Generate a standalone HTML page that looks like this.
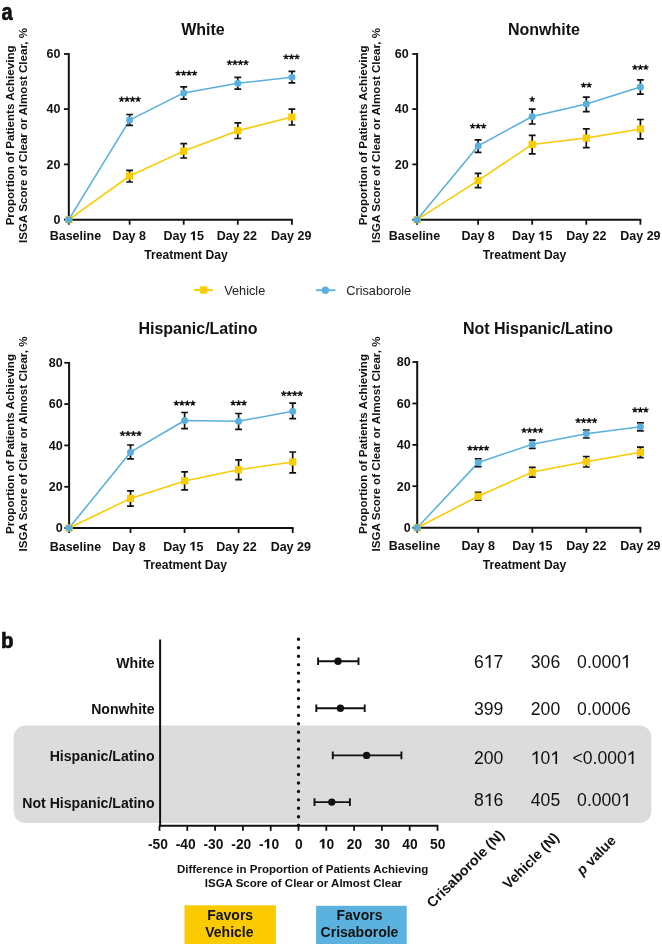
<!DOCTYPE html>
<html><head><meta charset="utf-8"><style>html,body{margin:0;padding:0;background:#fff;width:662px;height:944px;overflow:hidden}</style></head>
<body>
<svg width="662" height="944" viewBox="0 0 662 944" style="display:block;font-family:'Liberation Sans',sans-serif;will-change:transform">
<rect width="662" height="944" fill="#fff"/>
<text transform="translate(1.5,19.7) scale(0.85,0.98)" font-size="23.5" font-weight="bold" fill="#111" stroke="#111" stroke-width="0.7">a</text>
<text transform="translate(1.0,647.7) scale(0.93,0.98)" font-size="22" font-weight="bold" fill="#111" stroke="#111" stroke-width="0.7">b</text>
<text transform="translate(13.60,135.40) rotate(-90)" font-size="11.6" font-weight="bold" text-anchor="middle" fill="#111">Proportion of Patients Achieving</text>
<text transform="translate(27.20,135.40) rotate(-90)" font-size="11.6" font-weight="bold" text-anchor="middle" fill="#111">ISGA Score of Clear or Almost Clear, %</text>
<text x="203.00" y="35.30" font-size="16" font-weight="bold" text-anchor="middle" fill="#111" >White</text>
<line x1="64.00" y1="219.70" x2="68.80" y2="219.70" stroke="#111" stroke-width="1.8"/>
<text x="60.40" y="224.00" font-size="12.5" font-weight="bold" text-anchor="end" fill="#111" >0</text>
<line x1="64.00" y1="164.40" x2="68.80" y2="164.40" stroke="#111" stroke-width="1.8"/>
<text x="60.40" y="168.70" font-size="12.5" font-weight="bold" text-anchor="end" fill="#111" >20</text>
<line x1="64.00" y1="109.10" x2="68.80" y2="109.10" stroke="#111" stroke-width="1.8"/>
<text x="60.40" y="113.40" font-size="12.5" font-weight="bold" text-anchor="end" fill="#111" >40</text>
<line x1="64.00" y1="54.00" x2="68.80" y2="54.00" stroke="#111" stroke-width="1.8"/>
<text x="60.40" y="58.30" font-size="12.5" font-weight="bold" text-anchor="end" fill="#111" >60</text>
<line x1="68.80" y1="53.10" x2="68.80" y2="220.60" stroke="#111" stroke-width="2"/>
<line x1="67.90" y1="219.70" x2="292.80" y2="219.70" stroke="#111" stroke-width="2"/>
<line x1="68.80" y1="219.70" x2="68.80" y2="224.70" stroke="#111" stroke-width="1.8"/>
<line x1="129.60" y1="219.70" x2="129.60" y2="224.70" stroke="#111" stroke-width="1.8"/>
<line x1="183.70" y1="219.70" x2="183.70" y2="224.70" stroke="#111" stroke-width="1.8"/>
<line x1="237.80" y1="219.70" x2="237.80" y2="224.70" stroke="#111" stroke-width="1.8"/>
<line x1="291.90" y1="219.70" x2="291.90" y2="224.70" stroke="#111" stroke-width="1.8"/>
<text x="75.40" y="240.20" font-size="12.5" font-weight="bold" text-anchor="middle" fill="#111" >Baseline</text>
<text x="129.30" y="240.20" font-size="12.5" font-weight="bold" text-anchor="middle" fill="#111" >Day 8</text>
<text x="183.70" y="240.20" font-size="12.5" font-weight="bold" text-anchor="middle" fill="#111" >Day &#8199;5</text>
<path transform="translate(189.95,240.20) scale(12.5,-12.5)" d="M0.40,0L0.40,0.716L0.295,0.716L0.06,0.55L0.06,0.43L0.24,0.54L0.24,0Z" fill="#111"/>
<text x="236.80" y="240.20" font-size="12.5" font-weight="bold" text-anchor="middle" fill="#111" >Day 22</text>
<text x="291.20" y="240.20" font-size="12.5" font-weight="bold" text-anchor="middle" fill="#111" >Day 29</text>
<text x="186.00" y="258.80" font-size="12.1" font-weight="bold" text-anchor="middle" fill="#111" >Treatment Day</text>
<polyline points="68.80,219.70 129.60,176.00 183.70,151.10 237.80,130.70 291.90,117.00" fill="none" stroke="#f8cb00" stroke-width="1.55" stroke-linejoin="round"/>
<polyline points="68.80,219.70 129.60,120.10 183.70,92.90 237.80,83.20 291.90,77.30" fill="none" stroke="#5aafdd" stroke-width="1.55" stroke-linejoin="round"/>
<rect x="65.20" y="216.10" width="7.2" height="7.2" fill="#f9cc00"/>
<path d="M129.60,170.30V182.00M126.20,170.30H133.00M126.20,182.00H133.00" stroke="#111" stroke-width="1.7" fill="none"/>
<rect x="126.00" y="172.40" width="7.2" height="7.2" fill="#f9cc00"/>
<path d="M183.70,143.70V158.00M180.30,143.70H187.10M180.30,158.00H187.10" stroke="#111" stroke-width="1.7" fill="none"/>
<rect x="180.10" y="147.50" width="7.2" height="7.2" fill="#f9cc00"/>
<path d="M237.80,122.90V138.50M234.40,122.90H241.20M234.40,138.50H241.20" stroke="#111" stroke-width="1.7" fill="none"/>
<rect x="234.20" y="127.10" width="7.2" height="7.2" fill="#f9cc00"/>
<path d="M291.90,109.10V125.00M288.50,109.10H295.30M288.50,125.00H295.30" stroke="#111" stroke-width="1.7" fill="none"/>
<rect x="288.30" y="113.40" width="7.2" height="7.2" fill="#f9cc00"/>
<circle cx="68.80" cy="219.70" r="3.5" fill="#5aafdd"/>
<path d="M129.60,114.50V125.30M126.20,114.50H133.00M126.20,125.30H133.00" stroke="#111" stroke-width="1.7" fill="none"/>
<circle cx="129.60" cy="120.10" r="3.5" fill="#5aafdd"/>
<path d="M183.70,86.80V99.20M180.30,86.80H187.10M180.30,99.20H187.10" stroke="#111" stroke-width="1.7" fill="none"/>
<circle cx="183.70" cy="92.90" r="3.5" fill="#5aafdd"/>
<path d="M237.80,77.30V89.10M234.40,77.30H241.20M234.40,89.10H241.20" stroke="#111" stroke-width="1.7" fill="none"/>
<circle cx="237.80" cy="83.20" r="3.5" fill="#5aafdd"/>
<path d="M291.90,71.40V82.80M288.50,71.40H295.30M288.50,82.80H295.30" stroke="#111" stroke-width="1.7" fill="none"/>
<circle cx="291.90" cy="77.30" r="3.5" fill="#5aafdd"/>
<path d="M121.55,99.33L121.55,96.58M121.55,99.33L124.17,98.48M121.55,99.33L123.17,101.55M121.55,99.33L119.93,101.55M121.55,99.33L118.93,98.48M127.05,99.33L127.05,96.58M127.05,99.33L129.67,98.48M127.05,99.33L128.67,101.55M127.05,99.33L125.43,101.55M127.05,99.33L124.43,98.48M132.55,99.33L132.55,96.58M132.55,99.33L135.17,98.48M132.55,99.33L134.17,101.55M132.55,99.33L130.93,101.55M132.55,99.33L129.93,98.48M138.05,99.33L138.05,96.58M138.05,99.33L140.67,98.48M138.05,99.33L139.67,101.55M138.05,99.33L136.43,101.55M138.05,99.33L135.43,98.48" stroke="#111" stroke-width="1.35" stroke-linecap="butt" fill="none"/>
<path d="M178.05,73.23L178.05,70.48M178.05,73.23L180.67,72.38M178.05,73.23L179.67,75.45M178.05,73.23L176.43,75.45M178.05,73.23L175.43,72.38M183.55,73.23L183.55,70.48M183.55,73.23L186.17,72.38M183.55,73.23L185.17,75.45M183.55,73.23L181.93,75.45M183.55,73.23L180.93,72.38M189.05,73.23L189.05,70.48M189.05,73.23L191.67,72.38M189.05,73.23L190.67,75.45M189.05,73.23L187.43,75.45M189.05,73.23L186.43,72.38M194.55,73.23L194.55,70.48M194.55,73.23L197.17,72.38M194.55,73.23L196.17,75.45M194.55,73.23L192.93,75.45M194.55,73.23L191.93,72.38" stroke="#111" stroke-width="1.35" stroke-linecap="butt" fill="none"/>
<path d="M229.45,62.72L229.45,59.97M229.45,62.72L232.07,61.88M229.45,62.72L231.07,64.95M229.45,62.72L227.83,64.95M229.45,62.72L226.83,61.88M234.95,62.72L234.95,59.97M234.95,62.72L237.57,61.88M234.95,62.72L236.57,64.95M234.95,62.72L233.33,64.95M234.95,62.72L232.33,61.88M240.45,62.72L240.45,59.97M240.45,62.72L243.07,61.88M240.45,62.72L242.07,64.95M240.45,62.72L238.83,64.95M240.45,62.72L237.83,61.88M245.95,62.72L245.95,59.97M245.95,62.72L248.57,61.88M245.95,62.72L247.57,64.95M245.95,62.72L244.33,64.95M245.95,62.72L243.33,61.88" stroke="#111" stroke-width="1.35" stroke-linecap="butt" fill="none"/>
<path d="M286.00,56.92L286.00,54.17M286.00,56.92L288.62,56.08M286.00,56.92L287.62,59.15M286.00,56.92L284.38,59.15M286.00,56.92L283.38,56.08M291.50,56.92L291.50,54.17M291.50,56.92L294.12,56.08M291.50,56.92L293.12,59.15M291.50,56.92L289.88,59.15M291.50,56.92L288.88,56.08M297.00,56.92L297.00,54.17M297.00,56.92L299.62,56.08M297.00,56.92L298.62,59.15M297.00,56.92L295.38,59.15M297.00,56.92L294.38,56.08" stroke="#111" stroke-width="1.35" stroke-linecap="butt" fill="none"/>
<text transform="translate(366.70,135.40) rotate(-90)" font-size="11.6" font-weight="bold" text-anchor="middle" fill="#111">Proportion of Patients Achieving</text>
<text transform="translate(379.90,135.40) rotate(-90)" font-size="11.6" font-weight="bold" text-anchor="middle" fill="#111">ISGA Score of Clear or Almost Clear, %</text>
<text x="544.00" y="35.30" font-size="16" font-weight="bold" text-anchor="middle" fill="#111" >Nonwhite</text>
<line x1="412.30" y1="219.70" x2="417.10" y2="219.70" stroke="#111" stroke-width="1.8"/>
<line x1="412.30" y1="164.40" x2="417.10" y2="164.40" stroke="#111" stroke-width="1.8"/>
<text x="408.60" y="168.70" font-size="12.5" font-weight="bold" text-anchor="end" fill="#111" >20</text>
<line x1="412.30" y1="109.10" x2="417.10" y2="109.10" stroke="#111" stroke-width="1.8"/>
<text x="408.60" y="113.40" font-size="12.5" font-weight="bold" text-anchor="end" fill="#111" >40</text>
<line x1="412.30" y1="54.00" x2="417.10" y2="54.00" stroke="#111" stroke-width="1.8"/>
<text x="408.60" y="58.30" font-size="12.5" font-weight="bold" text-anchor="end" fill="#111" >60</text>
<line x1="417.10" y1="53.10" x2="417.10" y2="220.60" stroke="#111" stroke-width="2"/>
<line x1="416.20" y1="219.70" x2="641.30" y2="219.70" stroke="#111" stroke-width="2"/>
<line x1="417.10" y1="219.70" x2="417.10" y2="224.70" stroke="#111" stroke-width="1.8"/>
<line x1="478.10" y1="219.70" x2="478.10" y2="224.70" stroke="#111" stroke-width="1.8"/>
<line x1="532.20" y1="219.70" x2="532.20" y2="224.70" stroke="#111" stroke-width="1.8"/>
<line x1="586.30" y1="219.70" x2="586.30" y2="224.70" stroke="#111" stroke-width="1.8"/>
<line x1="640.40" y1="219.70" x2="640.40" y2="224.70" stroke="#111" stroke-width="1.8"/>
<text x="414.50" y="240.20" font-size="12.5" font-weight="bold" text-anchor="middle" fill="#111" >Baseline</text>
<text x="478.10" y="240.20" font-size="12.5" font-weight="bold" text-anchor="middle" fill="#111" >Day 8</text>
<text x="532.20" y="240.20" font-size="12.5" font-weight="bold" text-anchor="middle" fill="#111" >Day &#8199;5</text>
<path transform="translate(538.45,240.20) scale(12.5,-12.5)" d="M0.40,0L0.40,0.716L0.295,0.716L0.06,0.55L0.06,0.43L0.24,0.54L0.24,0Z" fill="#111"/>
<text x="586.30" y="240.20" font-size="12.5" font-weight="bold" text-anchor="middle" fill="#111" >Day 22</text>
<text x="640.40" y="240.20" font-size="12.5" font-weight="bold" text-anchor="middle" fill="#111" >Day 29</text>
<text x="524.50" y="258.80" font-size="12.1" font-weight="bold" text-anchor="middle" fill="#111" >Treatment Day</text>
<polyline points="417.10,219.70 478.10,180.70 532.20,144.40 586.30,138.10 640.40,128.90" fill="none" stroke="#f8cb00" stroke-width="1.55" stroke-linejoin="round"/>
<polyline points="417.10,219.70 478.10,145.90 532.20,116.50 586.30,104.10 640.40,87.00" fill="none" stroke="#5aafdd" stroke-width="1.55" stroke-linejoin="round"/>
<rect x="413.50" y="216.10" width="7.2" height="7.2" fill="#f9cc00"/>
<path d="M478.10,173.30V187.60M474.70,173.30H481.50M474.70,187.60H481.50" stroke="#111" stroke-width="1.7" fill="none"/>
<rect x="474.50" y="177.10" width="7.2" height="7.2" fill="#f9cc00"/>
<path d="M532.20,135.30V153.90M528.80,135.30H535.60M528.80,153.90H535.60" stroke="#111" stroke-width="1.7" fill="none"/>
<rect x="528.60" y="140.80" width="7.2" height="7.2" fill="#f9cc00"/>
<path d="M586.30,128.90V147.70M582.90,128.90H589.70M582.90,147.70H589.70" stroke="#111" stroke-width="1.7" fill="none"/>
<rect x="582.70" y="134.50" width="7.2" height="7.2" fill="#f9cc00"/>
<path d="M640.40,119.50V138.80M637.00,119.50H643.80M637.00,138.80H643.80" stroke="#111" stroke-width="1.7" fill="none"/>
<rect x="636.80" y="125.30" width="7.2" height="7.2" fill="#f9cc00"/>
<circle cx="417.10" cy="219.70" r="3.5" fill="#5aafdd"/>
<path d="M478.10,139.90V152.40M474.70,139.90H481.50M474.70,152.40H481.50" stroke="#111" stroke-width="1.7" fill="none"/>
<circle cx="478.10" cy="145.90" r="3.5" fill="#5aafdd"/>
<path d="M532.20,109.20V124.00M528.80,109.20H535.60M528.80,124.00H535.60" stroke="#111" stroke-width="1.7" fill="none"/>
<circle cx="532.20" cy="116.50" r="3.5" fill="#5aafdd"/>
<path d="M586.30,97.10V111.60M582.90,97.10H589.70M582.90,111.60H589.70" stroke="#111" stroke-width="1.7" fill="none"/>
<circle cx="586.30" cy="104.10" r="3.5" fill="#5aafdd"/>
<path d="M640.40,79.80V94.10M637.00,79.80H643.80M637.00,94.10H643.80" stroke="#111" stroke-width="1.7" fill="none"/>
<circle cx="640.40" cy="87.00" r="3.5" fill="#5aafdd"/>
<path d="M472.60,126.23L472.60,123.48M472.60,126.23L475.22,125.38M472.60,126.23L474.22,128.45M472.60,126.23L470.98,128.45M472.60,126.23L469.98,125.38M478.10,126.23L478.10,123.48M478.10,126.23L480.72,125.38M478.10,126.23L479.72,128.45M478.10,126.23L476.48,128.45M478.10,126.23L475.48,125.38M483.60,126.23L483.60,123.48M483.60,126.23L486.22,125.38M483.60,126.23L485.22,128.45M483.60,126.23L481.98,128.45M483.60,126.23L480.98,125.38" stroke="#111" stroke-width="1.35" stroke-linecap="butt" fill="none"/>
<path d="M532.20,99.33L532.20,96.58M532.20,99.33L534.82,98.48M532.20,99.33L533.82,101.55M532.20,99.33L530.58,101.55M532.20,99.33L529.58,98.48" stroke="#111" stroke-width="1.35" stroke-linecap="butt" fill="none"/>
<path d="M583.55,85.12L583.55,82.38M583.55,85.12L586.17,84.28M583.55,85.12L585.17,87.35M583.55,85.12L581.93,87.35M583.55,85.12L580.93,84.28M589.05,85.12L589.05,82.38M589.05,85.12L591.67,84.28M589.05,85.12L590.67,87.35M589.05,85.12L587.43,87.35M589.05,85.12L586.43,84.28" stroke="#111" stroke-width="1.35" stroke-linecap="butt" fill="none"/>
<path d="M634.90,67.42L634.90,64.67M634.90,67.42L637.52,66.58M634.90,67.42L636.52,69.65M634.90,67.42L633.28,69.65M634.90,67.42L632.28,66.58M640.40,67.42L640.40,64.67M640.40,67.42L643.02,66.58M640.40,67.42L642.02,69.65M640.40,67.42L638.78,69.65M640.40,67.42L637.78,66.58M645.90,67.42L645.90,64.67M645.90,67.42L648.52,66.58M645.90,67.42L647.52,69.65M645.90,67.42L644.28,69.65M645.90,67.42L643.28,66.58" stroke="#111" stroke-width="1.35" stroke-linecap="butt" fill="none"/>
<text transform="translate(14.00,444.00) rotate(-90)" font-size="11.6" font-weight="bold" text-anchor="middle" fill="#111">Proportion of Patients Achieving</text>
<text transform="translate(27.30,444.00) rotate(-90)" font-size="11.6" font-weight="bold" text-anchor="middle" fill="#111">ISGA Score of Clear or Almost Clear, %</text>
<text x="198.00" y="334.40" font-size="16" font-weight="bold" text-anchor="middle" fill="#111" >Hispanic/Latino</text>
<line x1="64.30" y1="528.00" x2="69.10" y2="528.00" stroke="#111" stroke-width="1.8"/>
<text x="62.60" y="532.30" font-size="12.5" font-weight="bold" text-anchor="end" fill="#111" >0</text>
<line x1="64.30" y1="486.80" x2="69.10" y2="486.80" stroke="#111" stroke-width="1.8"/>
<text x="62.60" y="491.10" font-size="12.5" font-weight="bold" text-anchor="end" fill="#111" >20</text>
<line x1="64.30" y1="445.40" x2="69.10" y2="445.40" stroke="#111" stroke-width="1.8"/>
<text x="62.60" y="449.70" font-size="12.5" font-weight="bold" text-anchor="end" fill="#111" >40</text>
<line x1="64.30" y1="404.10" x2="69.10" y2="404.10" stroke="#111" stroke-width="1.8"/>
<text x="62.60" y="408.40" font-size="12.5" font-weight="bold" text-anchor="end" fill="#111" >60</text>
<line x1="64.30" y1="362.80" x2="69.10" y2="362.80" stroke="#111" stroke-width="1.8"/>
<text x="62.60" y="367.10" font-size="12.5" font-weight="bold" text-anchor="end" fill="#111" >80</text>
<line x1="69.10" y1="361.90" x2="69.10" y2="528.90" stroke="#111" stroke-width="2"/>
<line x1="68.20" y1="528.00" x2="293.60" y2="528.00" stroke="#111" stroke-width="2"/>
<line x1="69.10" y1="528.00" x2="69.10" y2="533.00" stroke="#111" stroke-width="1.8"/>
<line x1="130.50" y1="528.00" x2="130.50" y2="533.00" stroke="#111" stroke-width="1.8"/>
<line x1="184.60" y1="528.00" x2="184.60" y2="533.00" stroke="#111" stroke-width="1.8"/>
<line x1="238.60" y1="528.00" x2="238.60" y2="533.00" stroke="#111" stroke-width="1.8"/>
<line x1="292.70" y1="528.00" x2="292.70" y2="533.00" stroke="#111" stroke-width="1.8"/>
<text x="75.40" y="550.60" font-size="12.5" font-weight="bold" text-anchor="middle" fill="#111" >Baseline</text>
<text x="129.00" y="550.60" font-size="12.5" font-weight="bold" text-anchor="middle" fill="#111" >Day 8</text>
<text x="183.30" y="550.60" font-size="12.5" font-weight="bold" text-anchor="middle" fill="#111" >Day &#8199;5</text>
<path transform="translate(189.55,550.60) scale(12.5,-12.5)" d="M0.40,0L0.40,0.716L0.295,0.716L0.06,0.55L0.06,0.43L0.24,0.54L0.24,0Z" fill="#111"/>
<text x="236.50" y="550.60" font-size="12.5" font-weight="bold" text-anchor="middle" fill="#111" >Day 22</text>
<text x="290.80" y="550.60" font-size="12.5" font-weight="bold" text-anchor="middle" fill="#111" >Day 29</text>
<text x="185.30" y="569.10" font-size="12.1" font-weight="bold" text-anchor="middle" fill="#111" >Treatment Day</text>
<polyline points="69.10,528.00 130.50,498.40 184.60,480.90 238.60,469.70 292.70,461.90" fill="none" stroke="#f8cb00" stroke-width="1.55" stroke-linejoin="round"/>
<polyline points="69.10,528.00 130.50,452.20 184.60,420.50 238.60,421.30 292.70,411.20" fill="none" stroke="#5aafdd" stroke-width="1.55" stroke-linejoin="round"/>
<rect x="65.50" y="524.40" width="7.2" height="7.2" fill="#f9cc00"/>
<path d="M130.50,490.80V506.20M127.10,490.80H133.90M127.10,506.20H133.90" stroke="#111" stroke-width="1.7" fill="none"/>
<rect x="126.90" y="494.80" width="7.2" height="7.2" fill="#f9cc00"/>
<path d="M184.60,471.80V489.80M181.20,471.80H188.00M181.20,489.80H188.00" stroke="#111" stroke-width="1.7" fill="none"/>
<rect x="181.00" y="477.30" width="7.2" height="7.2" fill="#f9cc00"/>
<path d="M238.60,459.80V479.70M235.20,459.80H242.00M235.20,479.70H242.00" stroke="#111" stroke-width="1.7" fill="none"/>
<rect x="235.00" y="466.10" width="7.2" height="7.2" fill="#f9cc00"/>
<path d="M292.70,452.00V472.80M289.30,452.00H296.10M289.30,472.80H296.10" stroke="#111" stroke-width="1.7" fill="none"/>
<rect x="289.10" y="458.30" width="7.2" height="7.2" fill="#f9cc00"/>
<circle cx="69.10" cy="528.00" r="3.5" fill="#5aafdd"/>
<path d="M130.50,445.00V458.90M127.10,445.00H133.90M127.10,458.90H133.90" stroke="#111" stroke-width="1.7" fill="none"/>
<circle cx="130.50" cy="452.20" r="3.5" fill="#5aafdd"/>
<path d="M184.60,412.50V428.60M181.20,412.50H188.00M181.20,428.60H188.00" stroke="#111" stroke-width="1.7" fill="none"/>
<circle cx="184.60" cy="420.50" r="3.5" fill="#5aafdd"/>
<path d="M238.60,413.50V429.30M235.20,413.50H242.00M235.20,429.30H242.00" stroke="#111" stroke-width="1.7" fill="none"/>
<circle cx="238.60" cy="421.30" r="3.5" fill="#5aafdd"/>
<path d="M292.70,403.20V418.60M289.30,403.20H296.10M289.30,418.60H296.10" stroke="#111" stroke-width="1.7" fill="none"/>
<circle cx="292.70" cy="411.20" r="3.5" fill="#5aafdd"/>
<path d="M122.45,433.62L122.45,430.88M122.45,433.62L125.07,432.78M122.45,433.62L124.07,435.85M122.45,433.62L120.83,435.85M122.45,433.62L119.83,432.78M127.95,433.62L127.95,430.88M127.95,433.62L130.57,432.78M127.95,433.62L129.57,435.85M127.95,433.62L126.33,435.85M127.95,433.62L125.33,432.78M133.45,433.62L133.45,430.88M133.45,433.62L136.07,432.78M133.45,433.62L135.07,435.85M133.45,433.62L131.83,435.85M133.45,433.62L130.83,432.78M138.95,433.62L138.95,430.88M138.95,433.62L141.57,432.78M138.95,433.62L140.57,435.85M138.95,433.62L137.33,435.85M138.95,433.62L136.33,432.78" stroke="#111" stroke-width="1.35" stroke-linecap="butt" fill="none"/>
<path d="M176.35,403.12L176.35,400.38M176.35,403.12L178.97,402.28M176.35,403.12L177.97,405.35M176.35,403.12L174.73,405.35M176.35,403.12L173.73,402.28M181.85,403.12L181.85,400.38M181.85,403.12L184.47,402.28M181.85,403.12L183.47,405.35M181.85,403.12L180.23,405.35M181.85,403.12L179.23,402.28M187.35,403.12L187.35,400.38M187.35,403.12L189.97,402.28M187.35,403.12L188.97,405.35M187.35,403.12L185.73,405.35M187.35,403.12L184.73,402.28M192.85,403.12L192.85,400.38M192.85,403.12L195.47,402.28M192.85,403.12L194.47,405.35M192.85,403.12L191.23,405.35M192.85,403.12L190.23,402.28" stroke="#111" stroke-width="1.35" stroke-linecap="butt" fill="none"/>
<path d="M233.10,403.02L233.10,400.27M233.10,403.02L235.72,402.18M233.10,403.02L234.72,405.25M233.10,403.02L231.48,405.25M233.10,403.02L230.48,402.18M238.60,403.02L238.60,400.27M238.60,403.02L241.22,402.18M238.60,403.02L240.22,405.25M238.60,403.02L236.98,405.25M238.60,403.02L235.98,402.18M244.10,403.02L244.10,400.27M244.10,403.02L246.72,402.18M244.10,403.02L245.72,405.25M244.10,403.02L242.48,405.25M244.10,403.02L241.48,402.18" stroke="#111" stroke-width="1.35" stroke-linecap="butt" fill="none"/>
<path d="M283.65,393.72L283.65,390.97M283.65,393.72L286.27,392.88M283.65,393.72L285.27,395.95M283.65,393.72L282.03,395.95M283.65,393.72L281.03,392.88M289.15,393.72L289.15,390.97M289.15,393.72L291.77,392.88M289.15,393.72L290.77,395.95M289.15,393.72L287.53,395.95M289.15,393.72L286.53,392.88M294.65,393.72L294.65,390.97M294.65,393.72L297.27,392.88M294.65,393.72L296.27,395.95M294.65,393.72L293.03,395.95M294.65,393.72L292.03,392.88M300.15,393.72L300.15,390.97M300.15,393.72L302.77,392.88M300.15,393.72L301.77,395.95M300.15,393.72L298.53,395.95M300.15,393.72L297.53,392.88" stroke="#111" stroke-width="1.35" stroke-linecap="butt" fill="none"/>
<text transform="translate(366.80,444.00) rotate(-90)" font-size="11.6" font-weight="bold" text-anchor="middle" fill="#111">Proportion of Patients Achieving</text>
<text transform="translate(380.00,444.00) rotate(-90)" font-size="11.6" font-weight="bold" text-anchor="middle" fill="#111">ISGA Score of Clear or Almost Clear, %</text>
<text x="538.00" y="334.40" font-size="16" font-weight="bold" text-anchor="middle" fill="#111" >Not Hispanic/Latino</text>
<line x1="412.40" y1="527.80" x2="417.20" y2="527.80" stroke="#111" stroke-width="1.8"/>
<text x="410.60" y="532.10" font-size="12.5" font-weight="bold" text-anchor="end" fill="#111" >0</text>
<line x1="412.40" y1="486.20" x2="417.20" y2="486.20" stroke="#111" stroke-width="1.8"/>
<text x="410.60" y="490.50" font-size="12.5" font-weight="bold" text-anchor="end" fill="#111" >20</text>
<line x1="412.40" y1="444.90" x2="417.20" y2="444.90" stroke="#111" stroke-width="1.8"/>
<text x="410.60" y="449.20" font-size="12.5" font-weight="bold" text-anchor="end" fill="#111" >40</text>
<line x1="412.40" y1="403.50" x2="417.20" y2="403.50" stroke="#111" stroke-width="1.8"/>
<text x="410.60" y="407.80" font-size="12.5" font-weight="bold" text-anchor="end" fill="#111" >60</text>
<line x1="412.40" y1="362.00" x2="417.20" y2="362.00" stroke="#111" stroke-width="1.8"/>
<text x="410.60" y="366.30" font-size="12.5" font-weight="bold" text-anchor="end" fill="#111" >80</text>
<line x1="417.20" y1="361.10" x2="417.20" y2="528.70" stroke="#111" stroke-width="2"/>
<line x1="416.30" y1="527.80" x2="641.30" y2="527.80" stroke="#111" stroke-width="2"/>
<line x1="417.20" y1="527.80" x2="417.20" y2="532.80" stroke="#111" stroke-width="1.8"/>
<line x1="478.20" y1="527.80" x2="478.20" y2="532.80" stroke="#111" stroke-width="1.8"/>
<line x1="532.30" y1="527.80" x2="532.30" y2="532.80" stroke="#111" stroke-width="1.8"/>
<line x1="586.30" y1="527.80" x2="586.30" y2="532.80" stroke="#111" stroke-width="1.8"/>
<line x1="640.40" y1="527.80" x2="640.40" y2="532.80" stroke="#111" stroke-width="1.8"/>
<text x="414.40" y="550.40" font-size="12.5" font-weight="bold" text-anchor="middle" fill="#111" >Baseline</text>
<text x="478.20" y="550.40" font-size="12.5" font-weight="bold" text-anchor="middle" fill="#111" >Day 8</text>
<text x="532.30" y="550.40" font-size="12.5" font-weight="bold" text-anchor="middle" fill="#111" >Day &#8199;5</text>
<path transform="translate(538.55,550.40) scale(12.5,-12.5)" d="M0.40,0L0.40,0.716L0.295,0.716L0.06,0.55L0.06,0.43L0.24,0.54L0.24,0Z" fill="#111"/>
<text x="586.30" y="550.40" font-size="12.5" font-weight="bold" text-anchor="middle" fill="#111" >Day 22</text>
<text x="640.40" y="550.40" font-size="12.5" font-weight="bold" text-anchor="middle" fill="#111" >Day 29</text>
<text x="524.50" y="569.10" font-size="12.1" font-weight="bold" text-anchor="middle" fill="#111" >Treatment Day</text>
<polyline points="417.20,527.80 478.20,496.30 532.30,472.10 586.30,461.80 640.40,452.20" fill="none" stroke="#f8cb00" stroke-width="1.55" stroke-linejoin="round"/>
<polyline points="417.20,527.80 478.20,462.60 532.30,444.20 586.30,433.80 640.40,426.70" fill="none" stroke="#5aafdd" stroke-width="1.55" stroke-linejoin="round"/>
<rect x="413.60" y="524.20" width="7.2" height="7.2" fill="#f9cc00"/>
<path d="M478.20,492.30V500.20M474.80,492.30H481.60M474.80,500.20H481.60" stroke="#111" stroke-width="1.7" fill="none"/>
<rect x="474.60" y="492.70" width="7.2" height="7.2" fill="#f9cc00"/>
<path d="M532.30,467.30V477.10M528.90,467.30H535.70M528.90,477.10H535.70" stroke="#111" stroke-width="1.7" fill="none"/>
<rect x="528.70" y="468.50" width="7.2" height="7.2" fill="#f9cc00"/>
<path d="M586.30,456.50V467.00M582.90,456.50H589.70M582.90,467.00H589.70" stroke="#111" stroke-width="1.7" fill="none"/>
<rect x="582.70" y="458.20" width="7.2" height="7.2" fill="#f9cc00"/>
<path d="M640.40,447.10V457.70M637.00,447.10H643.80M637.00,457.70H643.80" stroke="#111" stroke-width="1.7" fill="none"/>
<rect x="636.80" y="448.60" width="7.2" height="7.2" fill="#f9cc00"/>
<circle cx="417.20" cy="527.80" r="3.5" fill="#5aafdd"/>
<path d="M478.20,458.90V466.60M474.80,458.90H481.60M474.80,466.60H481.60" stroke="#111" stroke-width="1.7" fill="none"/>
<circle cx="478.20" cy="462.60" r="3.5" fill="#5aafdd"/>
<path d="M532.30,440.10V448.30M528.90,440.10H535.70M528.90,448.30H535.70" stroke="#111" stroke-width="1.7" fill="none"/>
<circle cx="532.30" cy="444.20" r="3.5" fill="#5aafdd"/>
<path d="M586.30,430.00V438.00M582.90,430.00H589.70M582.90,438.00H589.70" stroke="#111" stroke-width="1.7" fill="none"/>
<circle cx="586.30" cy="433.80" r="3.5" fill="#5aafdd"/>
<path d="M640.40,422.90V430.80M637.00,422.90H643.80M637.00,430.80H643.80" stroke="#111" stroke-width="1.7" fill="none"/>
<circle cx="640.40" cy="426.70" r="3.5" fill="#5aafdd"/>
<path d="M469.95,448.12L469.95,445.38M469.95,448.12L472.57,447.28M469.95,448.12L471.57,450.35M469.95,448.12L468.33,450.35M469.95,448.12L467.33,447.28M475.45,448.12L475.45,445.38M475.45,448.12L478.07,447.28M475.45,448.12L477.07,450.35M475.45,448.12L473.83,450.35M475.45,448.12L472.83,447.28M480.95,448.12L480.95,445.38M480.95,448.12L483.57,447.28M480.95,448.12L482.57,450.35M480.95,448.12L479.33,450.35M480.95,448.12L478.33,447.28M486.45,448.12L486.45,445.38M486.45,448.12L489.07,447.28M486.45,448.12L488.07,450.35M486.45,448.12L484.83,450.35M486.45,448.12L483.83,447.28" stroke="#111" stroke-width="1.35" stroke-linecap="butt" fill="none"/>
<path d="M524.05,430.43L524.05,427.68M524.05,430.43L526.67,429.58M524.05,430.43L525.67,432.65M524.05,430.43L522.43,432.65M524.05,430.43L521.43,429.58M529.55,430.43L529.55,427.68M529.55,430.43L532.17,429.58M529.55,430.43L531.17,432.65M529.55,430.43L527.93,432.65M529.55,430.43L526.93,429.58M535.05,430.43L535.05,427.68M535.05,430.43L537.67,429.58M535.05,430.43L536.67,432.65M535.05,430.43L533.43,432.65M535.05,430.43L532.43,429.58M540.55,430.43L540.55,427.68M540.55,430.43L543.17,429.58M540.55,430.43L542.17,432.65M540.55,430.43L538.93,432.65M540.55,430.43L537.93,429.58" stroke="#111" stroke-width="1.35" stroke-linecap="butt" fill="none"/>
<path d="M578.05,420.62L578.05,417.88M578.05,420.62L580.67,419.78M578.05,420.62L579.67,422.85M578.05,420.62L576.43,422.85M578.05,420.62L575.43,419.78M583.55,420.62L583.55,417.88M583.55,420.62L586.17,419.78M583.55,420.62L585.17,422.85M583.55,420.62L581.93,422.85M583.55,420.62L580.93,419.78M589.05,420.62L589.05,417.88M589.05,420.62L591.67,419.78M589.05,420.62L590.67,422.85M589.05,420.62L587.43,422.85M589.05,420.62L586.43,419.78M594.55,420.62L594.55,417.88M594.55,420.62L597.17,419.78M594.55,420.62L596.17,422.85M594.55,420.62L592.93,422.85M594.55,420.62L591.93,419.78" stroke="#111" stroke-width="1.35" stroke-linecap="butt" fill="none"/>
<path d="M634.90,410.02L634.90,407.27M634.90,410.02L637.52,409.18M634.90,410.02L636.52,412.25M634.90,410.02L633.28,412.25M634.90,410.02L632.28,409.18M640.40,410.02L640.40,407.27M640.40,410.02L643.02,409.18M640.40,410.02L642.02,412.25M640.40,410.02L638.78,412.25M640.40,410.02L637.78,409.18M645.90,410.02L645.90,407.27M645.90,410.02L648.52,409.18M645.90,410.02L647.52,412.25M645.90,410.02L644.28,412.25M645.90,410.02L643.28,409.18" stroke="#111" stroke-width="1.35" stroke-linecap="butt" fill="none"/>
<line x1="193.8" y1="290.1" x2="212.9" y2="290.1" stroke="#f8cb00" stroke-width="1.8"/>
<rect x="200.1" y="286.4" width="7.3" height="7.3" fill="#f9cc00"/>
<text x="224.30" y="294.80" font-size="12.7" font-weight="normal" text-anchor="start" fill="#222" >Vehicle</text>
<line x1="315.9" y1="290.2" x2="335.4" y2="290.2" stroke="#5aafdd" stroke-width="1.8"/>
<circle cx="325.4" cy="290.2" r="3.7" fill="#5aafdd"/>
<text x="346.30" y="294.80" font-size="12.7" font-weight="normal" text-anchor="start" fill="#222" >Crisaborole</text>
<rect x="13.6" y="725.4" width="637.8" height="97.5" rx="12" ry="12" fill="#dcdcdc"/>
<line x1="298.50" y1="639.3" x2="298.50" y2="826" stroke="#111" stroke-width="3.4" stroke-linecap="round" stroke-dasharray="0 8.45"/>
<line x1="160.1" y1="639.5" x2="160.1" y2="826.6" stroke="#111" stroke-width="2"/>
<line x1="159.1" y1="825.8" x2="438.40" y2="825.8" stroke="#111" stroke-width="2"/>
<line x1="159.50" y1="825.8" x2="159.50" y2="830.8" stroke="#111" stroke-width="1.8"/>
<text x="157.90" y="848.60" font-size="13.8" font-weight="bold" text-anchor="middle" fill="#111" >-50</text>
<line x1="187.30" y1="825.8" x2="187.30" y2="830.8" stroke="#111" stroke-width="1.8"/>
<text x="185.70" y="848.60" font-size="13.8" font-weight="bold" text-anchor="middle" fill="#111" >-40</text>
<line x1="215.10" y1="825.8" x2="215.10" y2="830.8" stroke="#111" stroke-width="1.8"/>
<text x="213.50" y="848.60" font-size="13.8" font-weight="bold" text-anchor="middle" fill="#111" >-30</text>
<line x1="242.90" y1="825.8" x2="242.90" y2="830.8" stroke="#111" stroke-width="1.8"/>
<text x="241.30" y="848.60" font-size="13.8" font-weight="bold" text-anchor="middle" fill="#111" >-20</text>
<line x1="270.70" y1="825.8" x2="270.70" y2="830.8" stroke="#111" stroke-width="1.8"/>
<text x="269.10" y="848.60" font-size="13.8" font-weight="bold" text-anchor="middle" fill="#111" >-&#8199;0</text>
<path transform="translate(263.72,848.60) scale(13.8,-13.8)" d="M0.40,0L0.40,0.716L0.295,0.716L0.06,0.55L0.06,0.43L0.24,0.54L0.24,0Z" fill="#111"/>
<line x1="298.50" y1="825.8" x2="298.50" y2="830.8" stroke="#111" stroke-width="1.8"/>
<text x="298.80" y="848.60" font-size="13.8" font-weight="bold" text-anchor="middle" fill="#111" >0</text>
<line x1="326.30" y1="825.8" x2="326.30" y2="830.8" stroke="#111" stroke-width="1.8"/>
<text x="326.60" y="848.60" font-size="13.8" font-weight="bold" text-anchor="middle" fill="#111" >&#8199;0</text>
<path transform="translate(318.92,848.60) scale(13.8,-13.8)" d="M0.40,0L0.40,0.716L0.295,0.716L0.06,0.55L0.06,0.43L0.24,0.54L0.24,0Z" fill="#111"/>
<line x1="354.10" y1="825.8" x2="354.10" y2="830.8" stroke="#111" stroke-width="1.8"/>
<text x="354.40" y="848.60" font-size="13.8" font-weight="bold" text-anchor="middle" fill="#111" >20</text>
<line x1="381.90" y1="825.8" x2="381.90" y2="830.8" stroke="#111" stroke-width="1.8"/>
<text x="382.20" y="848.60" font-size="13.8" font-weight="bold" text-anchor="middle" fill="#111" >30</text>
<line x1="409.70" y1="825.8" x2="409.70" y2="830.8" stroke="#111" stroke-width="1.8"/>
<text x="410.00" y="848.60" font-size="13.8" font-weight="bold" text-anchor="middle" fill="#111" >40</text>
<line x1="437.50" y1="825.8" x2="437.50" y2="830.8" stroke="#111" stroke-width="1.8"/>
<text x="437.80" y="848.60" font-size="13.8" font-weight="bold" text-anchor="middle" fill="#111" >50</text>
<text x="302.60" y="873.20" font-size="11.5" font-weight="bold" text-anchor="middle" fill="#111" >Difference in Proportion of Patients Achieving</text>
<text x="303.40" y="887.10" font-size="11.5" font-weight="bold" text-anchor="middle" fill="#111" >ISGA Score of Clear or Almost Clear</text>
<text x="154.60" y="667.60" font-size="14.1" font-weight="bold" text-anchor="end" fill="#111" >White</text>
<path d="M318.10,661.20H358.50M318.10,657.40V665.00M358.50,657.40V665.00" stroke="#111" stroke-width="1.9" fill="none"/>
<circle cx="338.00" cy="661.20" r="3.7" fill="#111"/>
<text x="488.70" y="667.70" font-size="17.6" font-weight="normal" text-anchor="middle" fill="#111" >6&#8199;7</text>
<path transform="translate(483.81,667.70) scale(17.6,-17.6)" d="M0.38,0L0.38,0.716L0.305,0.716L0.095,0.556L0.095,0.468L0.285,0.598L0.285,0Z" fill="#111"/>
<text x="545.50" y="667.70" font-size="17.6" font-weight="normal" text-anchor="middle" fill="#111" >306</text>
<text x="604.00" y="667.70" font-size="17.6" font-weight="normal" text-anchor="middle" fill="#111" >0.000&#8199;</text>
<path transform="translate(621.12,667.70) scale(17.6,-17.6)" d="M0.38,0L0.38,0.716L0.305,0.716L0.095,0.556L0.095,0.468L0.285,0.598L0.285,0Z" fill="#111"/>
<text x="154.60" y="714.40" font-size="14.1" font-weight="bold" text-anchor="end" fill="#111" >Nonwhite</text>
<path d="M316.30,708.30H364.70M316.30,704.50V712.10M364.70,704.50V712.10" stroke="#111" stroke-width="1.9" fill="none"/>
<circle cx="340.40" cy="708.30" r="3.7" fill="#111"/>
<text x="488.70" y="715.20" font-size="17.6" font-weight="normal" text-anchor="middle" fill="#111" >399</text>
<text x="545.50" y="715.20" font-size="17.6" font-weight="normal" text-anchor="middle" fill="#111" >200</text>
<text x="604.00" y="715.20" font-size="17.6" font-weight="normal" text-anchor="middle" fill="#111" >0.0006</text>
<text x="154.60" y="761.20" font-size="14.1" font-weight="bold" text-anchor="end" fill="#111" >Hispanic/Latino</text>
<path d="M332.80,755.40H401.40M332.80,751.60V759.20M401.40,751.60V759.20" stroke="#111" stroke-width="1.9" fill="none"/>
<circle cx="366.60" cy="755.40" r="3.7" fill="#111"/>
<text x="488.70" y="763.90" font-size="17.6" font-weight="normal" text-anchor="middle" fill="#111" >200</text>
<text x="545.50" y="763.90" font-size="17.6" font-weight="normal" text-anchor="middle" fill="#111" >&#8199;0&#8199;</text>
<path transform="translate(530.82,763.90) scale(17.6,-17.6)" d="M0.38,0L0.38,0.716L0.305,0.716L0.095,0.556L0.095,0.468L0.285,0.598L0.285,0Z" fill="#111"/>
<path transform="translate(550.39,763.90) scale(17.6,-17.6)" d="M0.38,0L0.38,0.716L0.305,0.716L0.095,0.556L0.095,0.468L0.285,0.598L0.285,0Z" fill="#111"/>
<text x="604.50" y="763.90" font-size="17.6" font-weight="normal" text-anchor="middle" fill="#111" >&lt;0.000&#8199;</text>
<path transform="translate(626.76,763.90) scale(17.6,-17.6)" d="M0.38,0L0.38,0.716L0.305,0.716L0.095,0.556L0.095,0.468L0.285,0.598L0.285,0Z" fill="#111"/>
<text x="154.60" y="807.60" font-size="14.1" font-weight="bold" text-anchor="end" fill="#111" >Not Hispanic/Latino</text>
<path d="M314.50,802.10H349.90M314.50,798.30V805.90M349.90,798.30V805.90" stroke="#111" stroke-width="1.9" fill="none"/>
<circle cx="331.80" cy="802.10" r="3.7" fill="#111"/>
<text x="488.70" y="806.10" font-size="17.6" font-weight="normal" text-anchor="middle" fill="#111" >8&#8199;6</text>
<path transform="translate(483.81,806.10) scale(17.6,-17.6)" d="M0.38,0L0.38,0.716L0.305,0.716L0.095,0.556L0.095,0.468L0.285,0.598L0.285,0Z" fill="#111"/>
<text x="545.50" y="806.10" font-size="17.6" font-weight="normal" text-anchor="middle" fill="#111" >405</text>
<text x="604.00" y="806.10" font-size="17.6" font-weight="normal" text-anchor="middle" fill="#111" >0.000&#8199;</text>
<path transform="translate(621.12,806.10) scale(17.6,-17.6)" d="M0.38,0L0.38,0.716L0.305,0.716L0.095,0.556L0.095,0.468L0.285,0.598L0.285,0Z" fill="#111"/>
<text transform="translate(505,836) rotate(-45)" font-size="14.2" font-weight="bold" text-anchor="end" fill="#111">Crisaborole (N)</text>
<text transform="translate(559.9,838.5) rotate(-45)" font-size="14.2" font-weight="bold" text-anchor="end" fill="#111">Vehicle (N)</text>
<text transform="translate(616.8,841.5) rotate(-45)" font-size="14.2" font-weight="bold" text-anchor="end" fill="#111"><tspan font-style="italic">p</tspan> value</text>
<rect x="184.5" y="905.3" width="91.4" height="40" fill="#fbcb00"/>
<rect x="316.1" y="905.8" width="90.6" height="40" fill="#5cb2df"/>
<text x="230.20" y="919.90" font-size="14" font-weight="bold" text-anchor="middle" fill="#111" >Favors</text>
<text x="229.40" y="937.00" font-size="14" font-weight="bold" text-anchor="middle" fill="#111" >Vehicle</text>
<text x="359.50" y="919.90" font-size="14" font-weight="bold" text-anchor="middle" fill="#111" >Favors</text>
<text x="359.50" y="937.00" font-size="14" font-weight="bold" text-anchor="middle" fill="#111" >Crisaborole</text>
</svg>
</body></html>
